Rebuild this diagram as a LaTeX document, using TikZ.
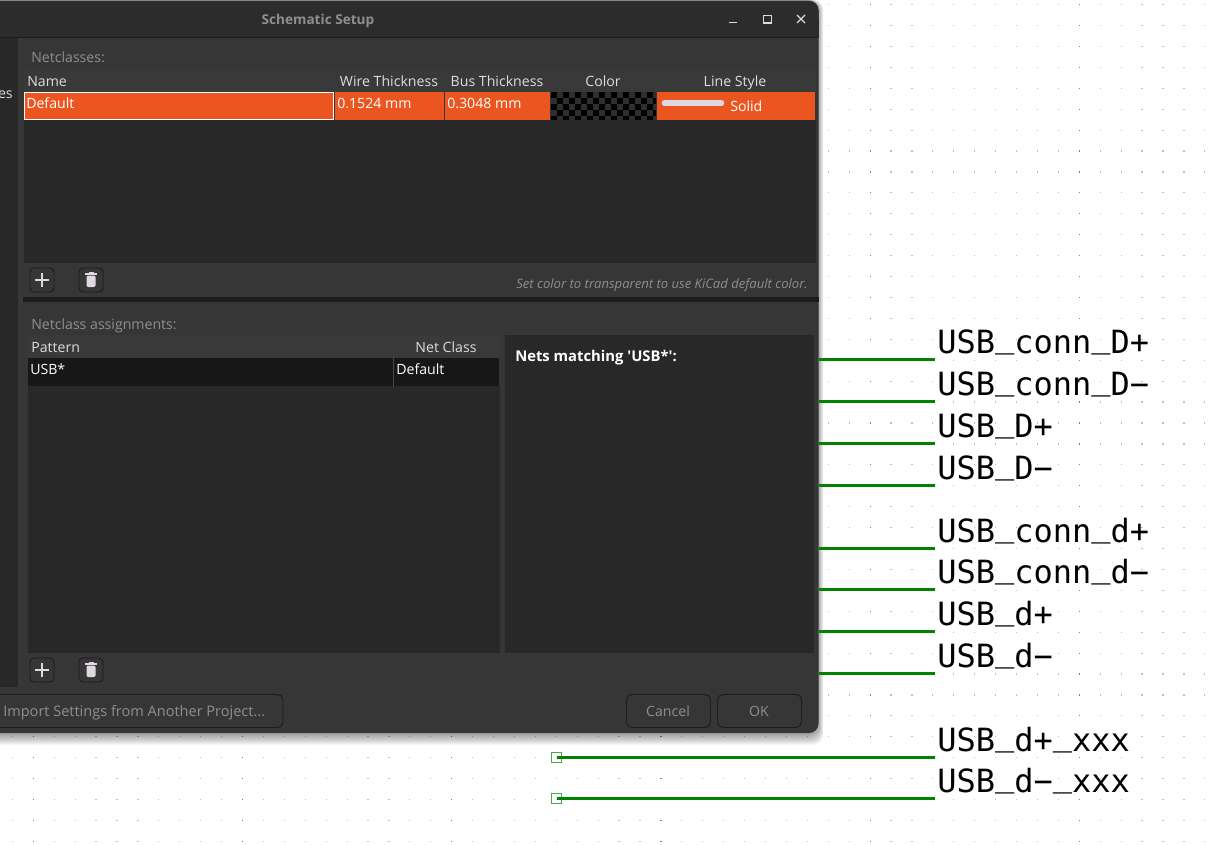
\documentclass[tikz,border=0pt]{standalone}
\usepackage{fontspec}
\setmainfont{Open Sans}[Ligatures=TeXOff]
\newfontfamily\netfont{DejaVu Sans Mono}
\definecolor{titlebar}{HTML}{2C2C2C}
\definecolor{panel}{HTML}{363636}
\definecolor{gridbg}{HTML}{282828}
\definecolor{headbg}{HTML}{393939}
\definecolor{sash}{HTML}{1C1C1C}
\definecolor{selrow}{HTML}{EB5620}
\definecolor{darkrow}{HTML}{171717}
\definecolor{uitext}{HTML}{DDDDDD}
\definecolor{dimtext}{HTML}{8F8F8F}
\definecolor{iconc}{HTML}{DFD8E0}
\definecolor{wirec}{HTML}{008400}
\definecolor{stubc}{HTML}{4CA64C}
\newcommand{\lowbar}{\raisebox{4.6pt}{\_}}
\tikzset{
  uilabel/.style={inner sep=0pt,text=uitext,text height=8.5pt,text depth=.3pt,font=\fontsize{10.6}{12}\selectfont},
  dimlabel/.style={uilabel,text=dimtext},
  netlabel/.style={anchor=south west,inner xsep=1.5pt,inner ysep=0pt,text=black,text depth=4.4pt,font=\netfont\fontsize{24}{26}\selectfont},
  wire/.style={wirec,line width=2pt},
  btn/.style={draw=sash,line width=.7pt,rounded corners=4pt},
  toolbtn/.style={draw=sash,line width=.7pt,rounded corners=3pt,minimum size=18pt,inner sep=0pt},
  stub/.style={draw=stubc,line width=.8pt,minimum size=7.5pt,inner sep=0pt}
}
\begin{document}
\begin{tikzpicture}[x=.75pt,y=-.75pt]
  \useasboundingbox (0,0) rectangle (1216,845);
  \fill[white] (0,0) rectangle (1216,845);
  % sheet grid
  \foreach \c in {0,...,57}{
    \pgfmathtruncatemacro{\major}{mod(\c,10)==1 ? 50 : 25}
    \foreach \r in {0,...,40}{
      \fill[black!\major] ({12.4+\c*20.92-.6},{4.6+\r*20.92-.6}) rectangle +(1.2,1.2);
    }
  }
  % drop shadow
  \foreach \s in {1,...,12}{
    \fill[black,opacity=.035,rounded corners=8pt] (-20,0) rectangle ({818+\s*.45},{733+\s});
  }
  % window
  \fill[panel,rounded corners=7pt] (-20,1) rectangle (818.5,733);
  \fill[titlebar,rounded corners=7pt] (-20,1) rectangle (818.5,30);
  \fill[titlebar] (-20,20) rectangle (818.5,37);
  \fill[sash] (-20,37) rectangle (818.5,38);
  \node[dimlabel,font=\bfseries\fontsize{10.2}{12}\selectfont] (title) at (318,19) {Schematic Setup};
  \draw[iconc,line width=.9pt] (729,22.5) -- (737,22.5);
  \draw[iconc,line width=.9pt] (763.5,15.5) rectangle (771.5,23);
  \draw[iconc,line width=.9pt] (797,15) -- (805,23) (805,15) -- (797,23);
  % sidebar
  \fill[gridbg] (-20,38) rectangle (18,687);
  \fill[black!78] (18,38) rectangle (23,687);
  \node[uilabel,anchor=east] (sidetxt) at (13,93) {es};
  % upper table
  \fill[headbg] (24,69) rectangle (816,92);
  \fill[gridbg] (24,120) rectangle (816,263);
  \node[dimlabel,anchor=west] (netclasses) at (31,57) {Netclasses:};
  \node[uilabel,anchor=west] (hName) at (27,81) {Name};
  \node[uilabel] (hWire) at (389,81) {Wire Thickness};
  \node[uilabel] (hBus) at (497,81) {Bus Thickness};
  \node[uilabel] (hColor) at (603,81) {Color};
  \node[uilabel] (hStyle) at (735,81) {Line Style};
  \fill[selrow] (24,92) rectangle (334,120);
  \draw[white,line width=.7pt] (24.5,92.5) rectangle (333.5,119.5);
  \fill[selrow] (335,92) rectangle (444,120);
  \fill[selrow] (445,92) rectangle (550,120);
  \fill[selrow] (657,92) rectangle (815,120);
  \begin{scope}
    \clip (551,92) rectangle (656,120);
    \fill[black!82] (551,92) rectangle (656,120);
    \foreach \i in {0,...,17}{
      \foreach \j in {0,...,4}{
        \pgfmathparse{int(mod(\i+\j,2))}
        \ifnum\pgfmathresult=0
          \fill[black] ({551+\i*6},{92+\j*6}) rectangle +(6,6);
        \fi
      }
    }
  \end{scope}
  \node[uilabel,text=white,anchor=west] (cDefault) at (26,103) {Default};
  \node[uilabel,text=white,anchor=west] (cWire) at (337,103) {0.1524 mm};
  \node[uilabel,text=white,anchor=west] (cBus) at (447,103) {0.3048 mm};
  \draw[iconc,line width=4.2pt,line cap=round] (664.5,103) -- (721.5,103);
  \node[uilabel,text=white,anchor=west] (cSolid) at (730,106) {Solid};
  \node[dimlabel,anchor=east,font=\itshape\fontsize{9.8}{11}\selectfont] (hint) at (808,283) {Set color to transparent to use KiCad default color.};
  % sash
  \fill[sash] (23,297) rectangle (818.5,302);
  % lower table
  \fill[headbg] (28,335) rectangle (500,358);
  \fill[gridbg] (28,386) rectangle (500,653);
  \fill[gridbg] (505,335) rectangle (814,653);
  \fill[darkrow] (28,358) rectangle (499,386);
  \draw[black!72,line width=.6pt] (393.5,358) -- (393.5,387);
  \node[dimlabel,anchor=west] (assign) at (31,324) {Netclass assignments:};
  \node[uilabel,anchor=west] (hPattern) at (31,347) {Pattern};
  \node[uilabel] (hClass) at (446,347) {Net Class};
  \node[uilabel,text=white,anchor=west] (cPattern) at (30,369) {USB*};
  \node[uilabel,text=white,anchor=west] (cClass) at (396,369) {Default};
  \node[uilabel,text=white,anchor=west,font=\bfseries\fontsize{11.1}{12}\selectfont] (matching) at (515,356) {Nets matching 'USB*':};
  % add and delete buttons
  \foreach \y in {280,670}{
    \node[toolbtn] (add\y) at (42,\y) {};
    \draw[iconc,line width=1.2pt] ([xshift=-7.2*.75pt]add\y.center) -- ([xshift=7.2*.75pt]add\y.center);
    \draw[iconc,line width=1.2pt] ([yshift=-7.2*.75pt]add\y.center) -- ([yshift=7.2*.75pt]add\y.center);
    \node[toolbtn] (del\y) at (91,\y) {};
    \fill[iconc,rounded corners=1pt] (86.5,\y-4.5) rectangle (95.5,\y+7);
    \fill[iconc] (85,\y-6.8) rectangle (97,\y-5.4);
    \fill[iconc] (88.5,\y-8) rectangle (93.5,\y-6.5);
  }
  % dialog buttons
  \draw[btn] (-20,694.5) rectangle (283,727.5);
  \draw[btn] (626.5,694.5) rectangle (710.5,727.5);
  \draw[btn] (717.5,694.5) rectangle (801.5,727.5);
  \node[dimlabel,anchor=west,font=\fontsize{10.9}{12}\selectfont] (import) at (3,711) {Import Settings from Another Project...};
  \node[dimlabel] (cancel) at (668,711) {Cancel};
  \node[dimlabel] (okay) at (759,711) {OK};
  % nets
  \foreach \n/\y/\txt in {a/359.5/USB\lowbar conn\lowbar D+,b/401.5/USB\lowbar conn\lowbar D−,c/443.5/USB\lowbar D+,d/485.5/USB\lowbar D−,e/548.5/USB\lowbar conn\lowbar d+,f/589.5/USB\lowbar conn\lowbar d−,g/631.5/USB\lowbar d+,h/673.5/USB\lowbar d−}{
    \coordinate (start\n) at (818.5,\y);
    \node[netlabel] (net\n) at (935,\y) {\txt};
    \draw[wire] (start\n) -- (net\n.south west);
  }
  \foreach \n/\y/\txt in {i/757.5/USB\lowbar d+\lowbar xxx,j/798.5/USB\lowbar d−\lowbar xxx}{
    \node[netlabel] (net\n) at (935,\y) {\txt};
    \node[stub] (stub\n) at (556.8,\y) {};
    \draw[wire] (stub\n.center) -- (net\n.south west);
  }
\end{tikzpicture}
\end{document}
